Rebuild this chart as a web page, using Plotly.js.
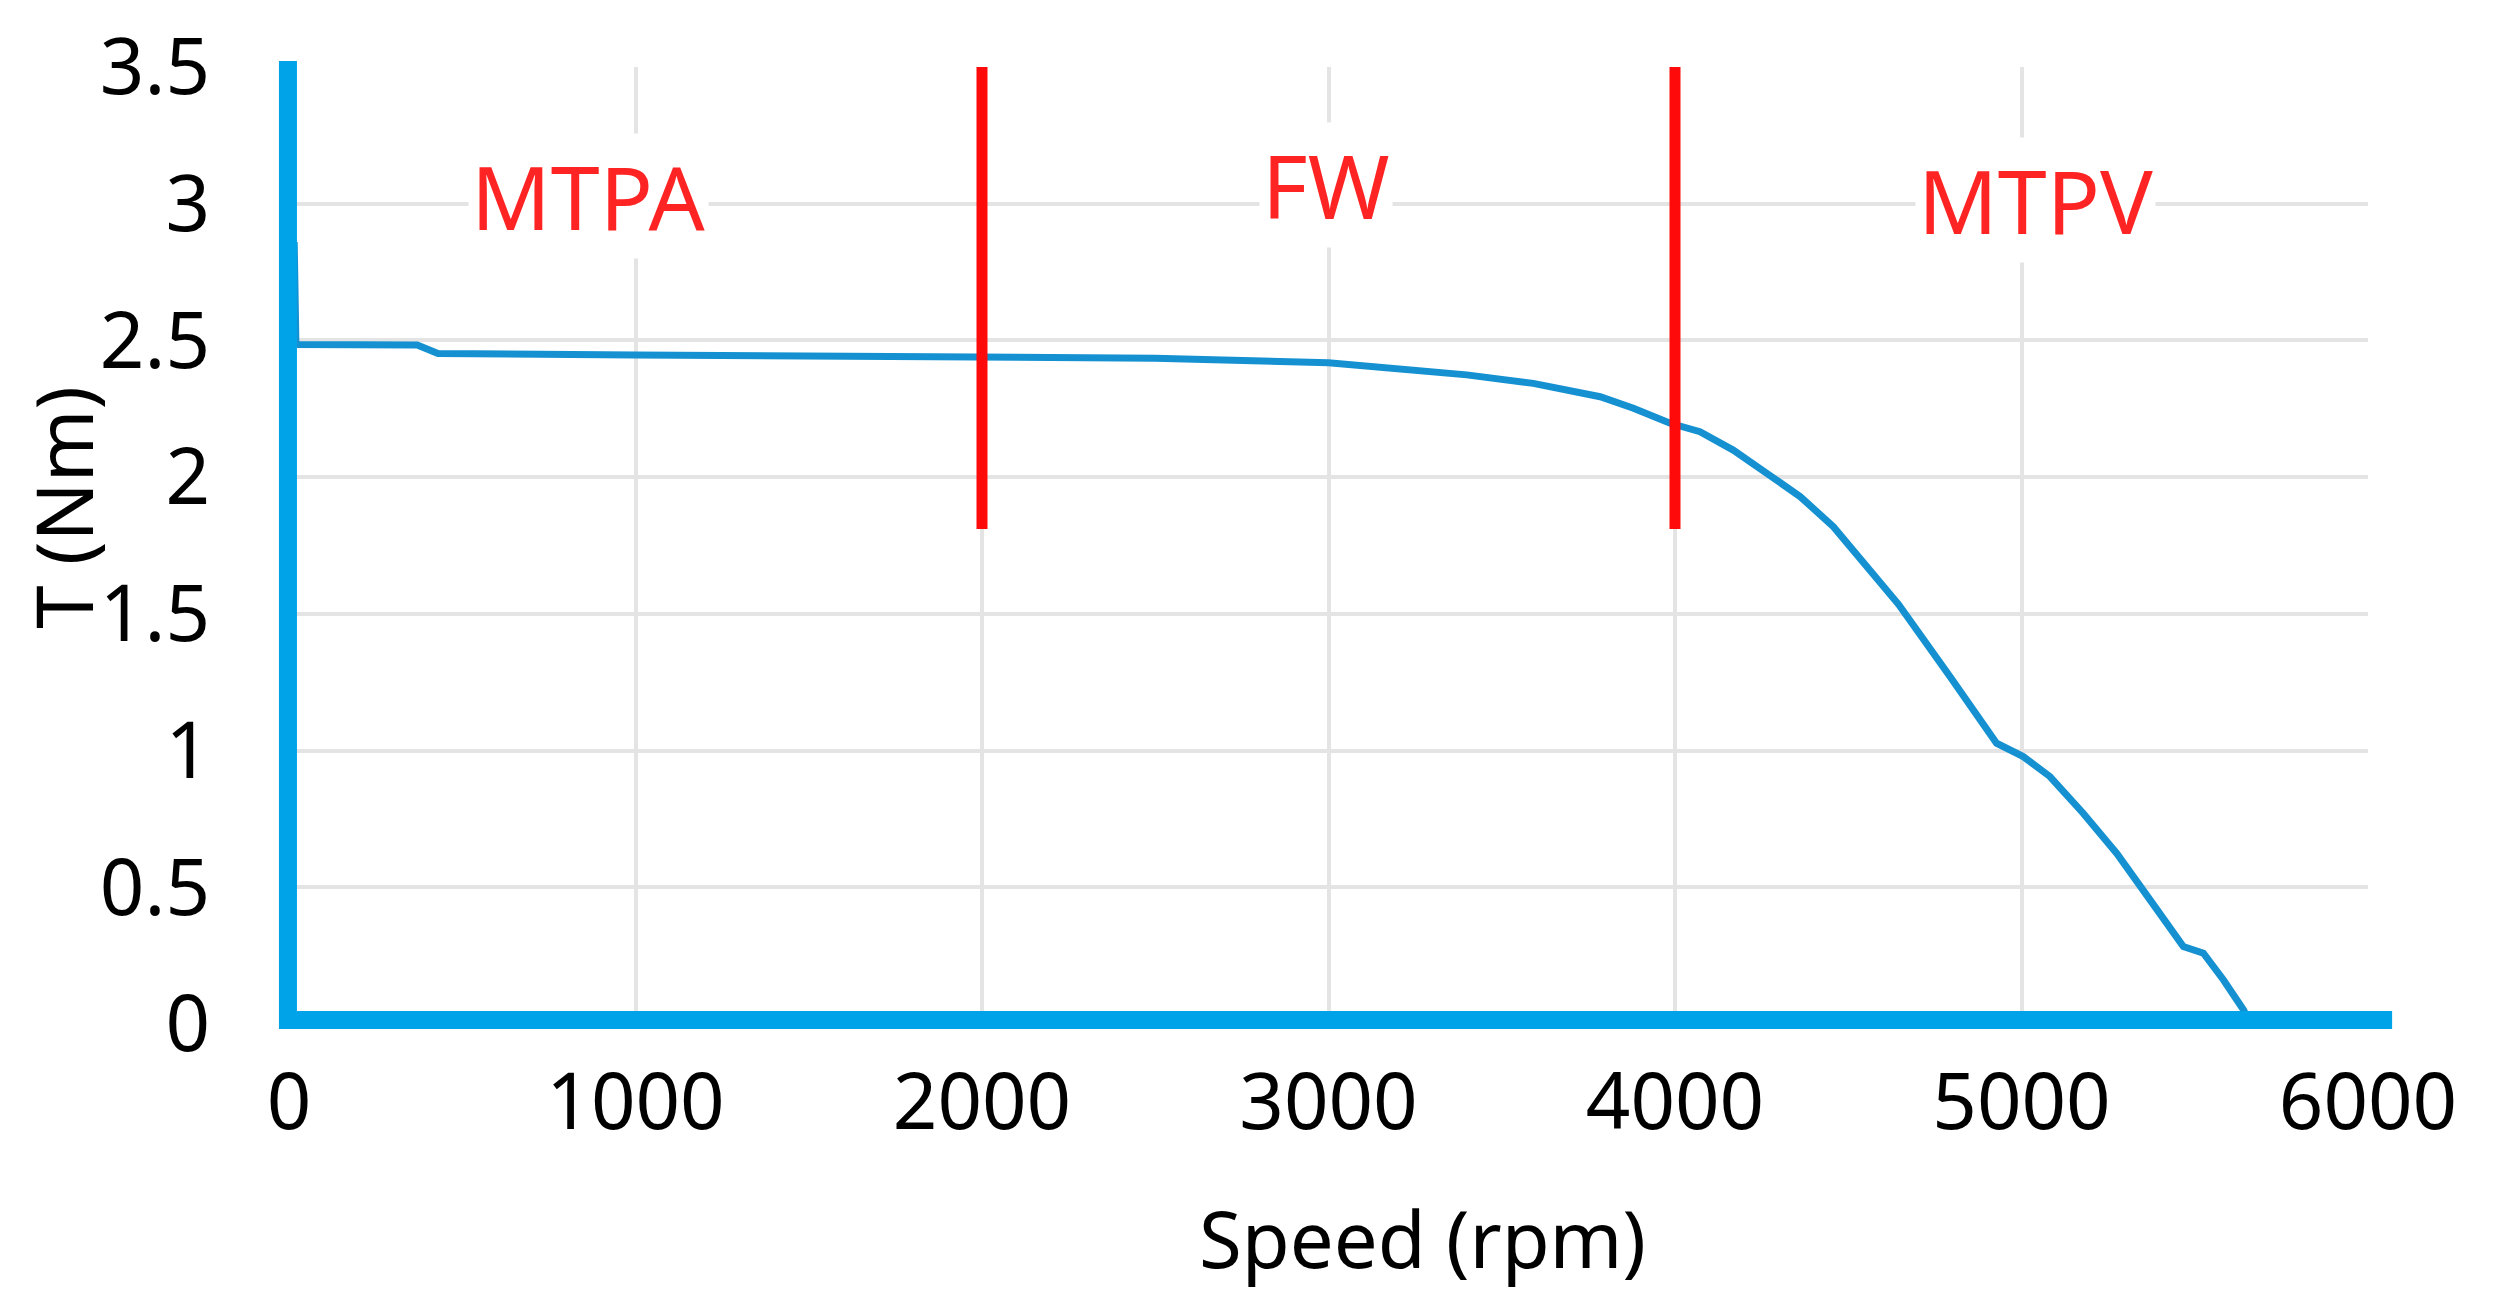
<!DOCTYPE html>
<html>
<head>
<meta charset="utf-8">
<script src="https://cdn.plot.ly/plotly-3.0.1.min.js"></script>
<style>
html,body{margin:0;padding:0;background:#ffffff;}
#chart{width:2506px;height:1309px;}
</style>
</head>
<body>
<div id="chart"></div>
<script>
// ---- data ----
const speedRpm = [15, 20, 370, 430, 1000, 1500, 2000, 2500, 3000, 3206, 3399, 3591, 3784, 3880, 3986, 4072, 4168, 4265, 4361, 4457, 4553, 4645, 4794, 4928, 5005, 5082, 5178, 5275, 5371, 5467, 5525, 5583, 5641, 5660];
const torqueNm = [2.86, 2.485, 2.483, 2.452, 2.447, 2.445, 2.443, 2.435, 2.418, 2.392, 2.374, 2.343, 2.294, 2.252, 2.197, 2.166, 2.099, 2.014, 1.929, 1.819, 1.673, 1.535, 1.270, 1.027, 0.978, 0.905, 0.771, 0.624, 0.454, 0.283, 0.259, 0.161, 0.051, 0];

const boundarySpeeds = [2000, 4000];
const boundaryTorqueRange = [1.81, 3.5];

const regionNames = ['MTPA', 'FW', 'MTPV'];
const regionSpeeds = [863, 2993, 5039];
const regionTorques = [3.03, 3.07, 3.015];

const xTickVals = [0, 1000, 2000, 3000, 4000, 5000, 6000];
const xTickText = ['0', '1000', '2000', '3000', '4000', '5000', '6000'];
const yTickVals = [0, 0.5, 1, 1.5, 2, 2.5, 3, 3.5];
const yTickText = ['0', '0.5', '1', '1.5', '2', '2.5', '3', '3.5'];

const xTitle = 'Speed (rpm)';
const yTitle = 'T (Nm)';

// ---- styles ----
const FONT = '"Noto Sans", "Open Sans", sans-serif';
const AXIS_BLUE = '#00a2e8';
const CURVE_BLUE = '#1591d1';
const RED = '#ff0a0a';
const GRID = '#e4e4e4';

const curve = {
  type: 'scatter', mode: 'lines',
  x: speedRpm, y: torqueNm,
  line: {color: CURVE_BLUE, width: 7},
  hoverinfo: 'skip', showlegend: false
};

const boundaries = {
  type: 'scatter', mode: 'lines',
  x: boundarySpeeds.flatMap(s => [s, s, null]),
  y: boundarySpeeds.flatMap(() => [boundaryTorqueRange[0], boundaryTorqueRange[1], null]),
  line: {color: RED, width: 11},
  hoverinfo: 'skip', showlegend: false,
  cliponaxis: false
};

const regionAnnotations = regionNames.map((name, i) => ({
  x: regionSpeeds[i], y: regionTorques[i], xref: 'x', yref: 'y',
  text: name, showarrow: false,
  font: {family: FONT, size: 88, color: '#ff2424'},
  bgcolor: '#ffffff', borderpad: 2,
  xanchor: 'center', yanchor: 'middle'
}));

const titleAnnotations = [
  {
    xref: 'paper', yref: 'paper', x: 0.545, y: -0.2236,
    text: xTitle, showarrow: false,
    font: {family: FONT, size: 78, color: '#000000'},
    xanchor: 'center', yanchor: 'middle'
  },
  {
    xref: 'paper', yref: 'paper', x: -0.1085, y: 0.540,
    text: yTitle, showarrow: false, textangle: -90,
    font: {family: FONT, size: 78, color: '#000000'},
    xanchor: 'center', yanchor: 'middle'
  }
];

const layout = {
  width: 2506, height: 1309,
  margin: {l: 289, r: 138, t: 67, b: 285, pad: 0},
  paper_bgcolor: '#ffffff', plot_bgcolor: '#ffffff',
  showlegend: false,
  font: {family: FONT, color: '#000000'},
  xaxis: {
    range: [0, 6000], tickmode: 'array', tickvals: xTickVals, ticktext: xTickText,
    showgrid: true, gridcolor: GRID, gridwidth: 4,
    zeroline: false, showline: false, ticks: '',
    ticklabelstandoff: 26,
    tickfont: {family: FONT, size: 78, color: '#000000'},
    fixedrange: true
  },
  yaxis: {
    range: [0, 3.5], tickmode: 'array', tickvals: yTickVals, ticktext: yTickText,
    showgrid: true, gridcolor: GRID, gridwidth: 4,
    zeroline: false, showline: false, ticks: '',
    ticklabelstandoff: 78,
    tickfont: {family: FONT, size: 78, color: '#000000'},
    fixedrange: true
  },
  shapes: [
    {type: 'line', xref: 'paper', yref: 'paper', x0: -0.0043, x1: 1.0116, y0: 0.0042, y1: 0.0042,
     line: {color: AXIS_BLUE, width: 18}, layer: 'above'},
    {type: 'line', xref: 'paper', yref: 'paper', x0: -0.0005, x1: -0.0005, y0: -0.0052, y1: 1.0063,
     line: {color: AXIS_BLUE, width: 18}, layer: 'above'}
  ],
  annotations: regionAnnotations.concat(titleAnnotations)
};

Plotly.newPlot('chart', [curve, boundaries], layout, {displayModeBar: false, staticPlot: true});
</script>
</body>
</html>
